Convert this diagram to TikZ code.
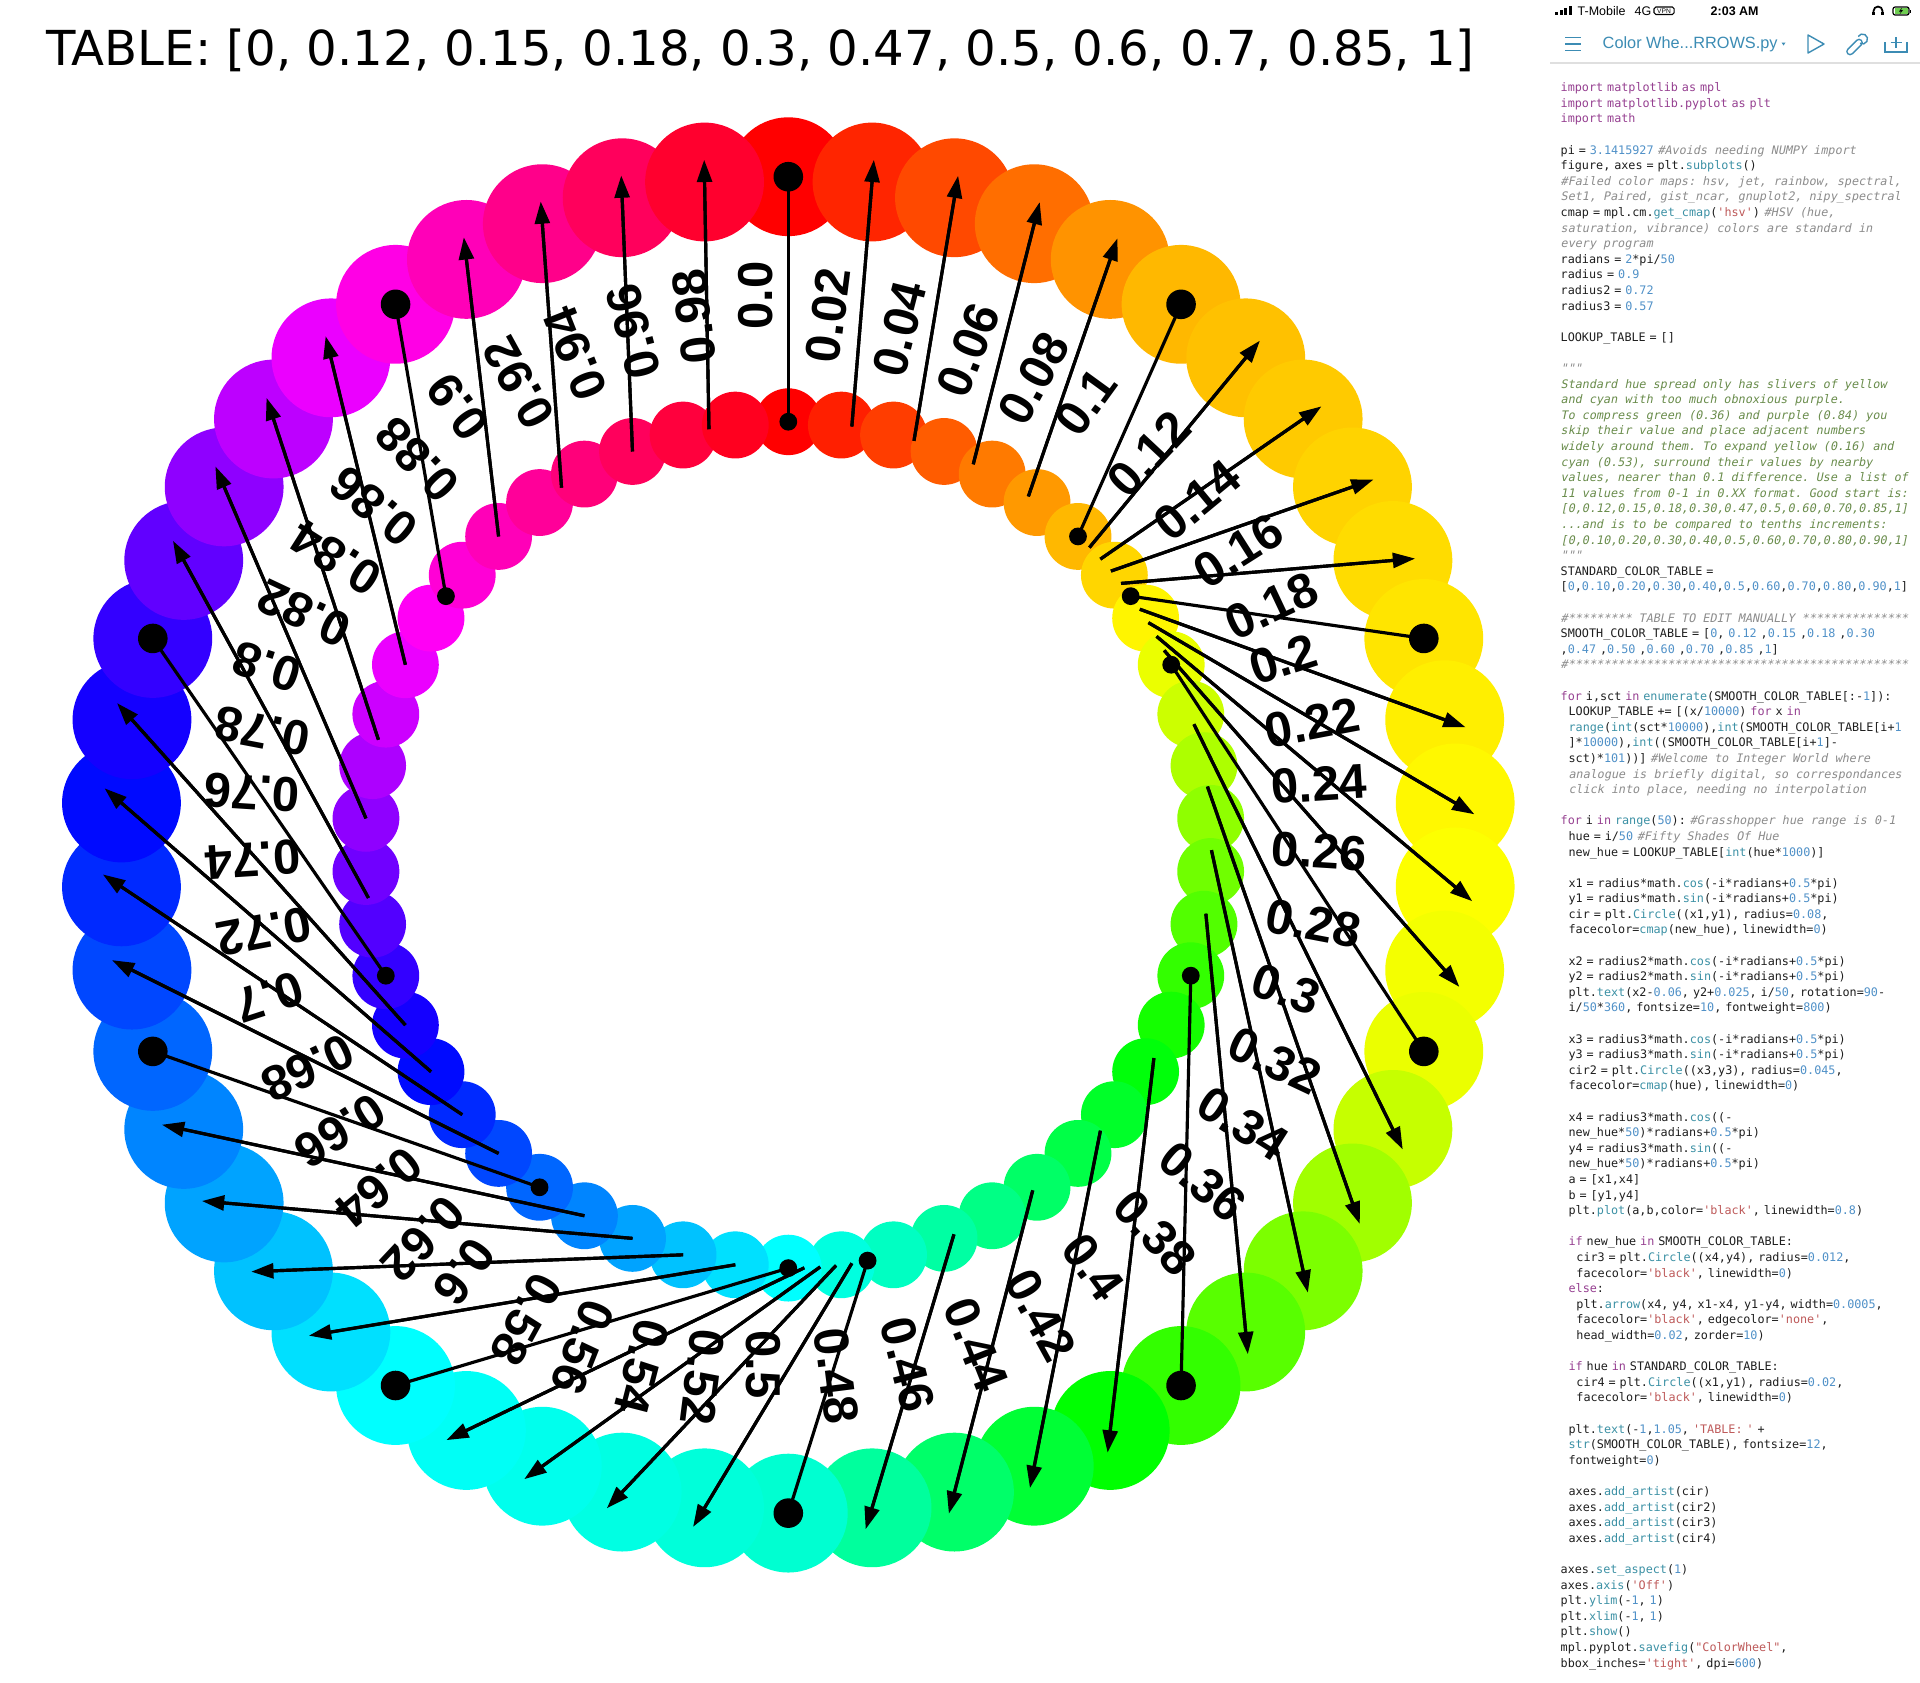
\documentclass[tikz,border=0pt]{standalone}
\usepackage{fontspec}
\usetikzlibrary{arrows.meta,calc}
\setmainfont{DejaVu Sans}
\newfontfamily\tagfont{Liberation Sans}
\newfontfamily\uifont{Liberation Sans}
\newfontfamily\codefont{DejaVu Sans Mono}[ItalicFont={DejaVu Sans Mono},ItalicFeatures={FakeSlant=0.2},Ligatures=TeXOff]

\definecolor{pykw}{RGB}{150,64,145}
\definecolor{pynum}{RGB}{80,145,200}
\definecolor{pyfn}{RGB}{60,145,165}
\definecolor{pystr}{RGB}{190,90,90}
\definecolor{pycom}{RGB}{140,140,140}
\definecolor{pydoc}{RGB}{105,140,75}
\definecolor{pytxt}{RGB}{30,30,30}
\definecolor{iosblue}{RGB}{60,140,180}
\definecolor{battgreen}{RGB}{110,205,80}

% comments set on a fixed character grid
\ExplSyntaxOn
\tl_new:N \l_codechars_tl
\cs_new_protected:Npn \codegrid #1
  {
    \tl_set:Nn \l_codechars_tl {#1}
    \tl_replace_all:Nnn \l_codechars_tl {~} {\codesp}
    \tl_map_inline:Nn \l_codechars_tl { \makebox[0.602em][l]{##1} }
  }
\ExplSyntaxOff
\newcommand\codesp{\kern0pt}

% code highlighting
\newcommand\ckw[1]{\textcolor{pykw}{#1}}
\newcommand\cnum[1]{\textcolor{pynum}{#1}}
\newcommand\cfn[1]{\textcolor{pyfn}{#1}}
\newcommand\cstr[1]{\textcolor{pystr}{#1}}
\newcommand\ccom[1]{\textcolor{pycom}{\itshape\codegrid{#1}}}
\newcommand\cdoc[1]{\textcolor{pydoc}{\itshape\codegrid{#1}}}
\newcommand\codesize{\fontsize{3.35pt}{4.438pt}\selectfont\codefont\frenchspacing}

% hue of step #1 and its remapped hue
\newcommand\huestep[1]{%
  \pgfmathtruncatemacro\hk{#1/5}%
  \pgfmathtruncatemacro\hj{\hk+1}%
  \pgfmathtruncatemacro\hr{#1-5*\hk}%
  \pgfmathsetmacro\ta{{0,0.12,0.15,0.18,0.30,0.47,0.50,0.60,0.70,0.85,1}[\hk]}%
  \pgfmathsetmacro\tb{{0,0.12,0.15,0.18,0.30,0.47,0.50,0.60,0.70,0.85,1}[\hj]}%
  \pgfmathsetmacro\nh{\ta+\hr*0.2*(\tb-\ta)}%
  \pgfmathsetmacro\hh{#1/50}%
  \pgfmathsetmacro\ao{90-7.2*#1}%
  \pgfmathsetmacro\an{90-360*\nh}%
}

\begin{document}
\begin{tikzpicture}[
spoke/.style={line width=0.9pt},
pointer/.style={line width=0.9pt, -{Triangle[length=2.23mm, width=1.49mm]}},
tag/.style={inner sep=0, font=\fontsize{13.94pt}{16pt}\selectfont\tagfont\bfseries},
ui/.style={inner sep=0, font=\fontsize{3.55pt}{4pt}\selectfont\uifont},
codeblock/.style={inner sep=0, text width=3.8cm, align=left, text=pytxt, font=\codesize},
icon/.style={iosblue, line width=0.4pt}
]
\useasboundingbox (0,0) rectangle (19.2,-16.82);
\fill[white] (0,0) rectangle (19.2,-16.82);

% title
\node[anchor=base west, inner sep=0, font=\fontsize{13.71pt}{16pt}\selectfont] (title) at (0.455,-0.655)
{TABLE: [0, 0.12, 0.15, 0.18, 0.3, 0.47, 0.5, 0.6, 0.7, 0.85, 1]};

% wheel
\begin{scope}[shift={(7.883,-8.449)}]
\foreach \i in {0,...,49}{
  \huestep{\i}
  \definecolor{ringout}{hsb}{\nh,1,1}
  \definecolor{ringin}{hsb}{\hh,1,1}
  \coordinate (o\i) at (\ao:6.682);
  \coordinate (h\i) at (\ao:4.232);
  \coordinate (n\i) at (\an:4.232);
  \fill[ringout] (o\i) circle (0.594);
  \fill[ringin] (h\i) circle (0.334);
}
% dots and spokes
\foreach \i in {0,...,49}{
  \huestep{\i}
  \ifnum\hr=0
    \fill (o\i) circle (0.148);
    \fill (n\i) circle (0.089);
  \fi
  \draw[spoke] (o\i) -- (n\i);
}
% hue labels
\foreach \i in {0,...,49}{
  \huestep{\i}
  \ifnum\hr=0
    \edef\tagtxt{0.\hk}\def\tagw{0.681}%
  \else
    \pgfmathtruncatemacro\dg{2*\i}%
    \ifnum\dg<10 \edef\tagtxt{0.0\dg}\else\edef\tagtxt{0.\dg}\fi
    \def\tagw{0.954}%
  \fi
  \pgfmathsetmacro\tx{(0.72*cos(\ao)-0.06)*7.424+0.5*(\tagw*abs(cos(\ao))+0.456*abs(sin(\ao)))-0.07}
  \pgfmathsetmacro\ty{(0.72*sin(\ao)+0.025)*7.424+0.353-0.5*(\tagw*abs(sin(\ao))+0.456*abs(cos(\ao)))-0.05}
  \node[tag, rotate=\ao] (t\i) at (\tx,\ty) {\vphantom{lp}\tagtxt};
}
% arrows
\foreach \i in {0,...,49}{
  \huestep{\i}
  \ifnum\hr>0
    \draw[pointer] (n\i) -- ($(o\i)!-0.223cm!(n\i)$);
  \fi
}
\end{scope}

% status bar
\foreach \b [count=\n] in {0.03,0.05,0.07,0.09}
  \fill (15.505+0.045*\n,-0.15) rectangle ++(0.033,\b);
\node[ui, anchor=base west] (carrier) at (15.77,-0.15) {T-Mobile};
\node[ui, anchor=base west] (net) at (16.34,-0.15) {4G};
\draw[line width=0.3pt, rounded corners=0.5pt] (16.54,-0.07) rectangle (16.74,-0.145);
\node[inner sep=0, font=\fontsize{1.9pt}{2pt}\selectfont\uifont] (vpn) at (16.64,-0.1075) {VPN};
\node[ui, anchor=base west, font=\fontsize{3.55pt}{4pt}\selectfont\uifont\bfseries] (clock) at (17.10,-0.15) {2:03 AM};
\draw[line width=0.5pt] (18.735,-0.145) -- (18.735,-0.11) arc[start angle=180, end angle=0, radius=0.045] -- (18.825,-0.145);
\fill (18.72,-0.12) rectangle (18.75,-0.15);
\fill (18.81,-0.12) rectangle (18.84,-0.15);
\draw[line width=0.35pt, rounded corners=0.6pt] (18.93,-0.07) rectangle (19.09,-0.15);
\fill (19.095,-0.095) rectangle (19.11,-0.125);
\fill[battgreen] (18.945,-0.08) rectangle (19.075,-0.14);
\fill (19.02,-0.075) -- (18.99,-0.115) -- (19.01,-0.115) -- (18.995,-0.145) -- (19.03,-0.10) -- (19.01,-0.10) -- cycle;

% editor title bar
\foreach \y in {0.373,0.438,0.503}
  \draw[icon] (15.65,-\y) -- (15.81,-\y);
\node[anchor=base west, inner sep=0, text=iosblue, font=\fontsize{4.64pt}{5pt}\selectfont\uifont] (file) at (16.02,-0.485) {Color Whe...RROWS.py};
\fill[iosblue] (17.815,-0.425) -- (17.855,-0.425) -- (17.835,-0.455) -- cycle;
\draw[icon, line join=round] (18.08,-0.35) -- (18.08,-0.53) -- (18.24,-0.44) -- cycle;
\draw[iosblue, line width=2.2pt, line cap=round] (18.50,-0.515) -- (18.59,-0.425);
\draw[white, line width=1.3pt, line cap=round] (18.50,-0.515) -- (18.59,-0.425);
\draw[icon] (18.625,-0.39) ++(-120:0.05) arc[start angle=-120, end angle=150, radius=0.05];
\draw[icon] (18.85,-0.42) -- (18.85,-0.52) -- (19.07,-0.52) -- (19.07,-0.42);
\draw[icon] (18.905,-0.425) -- (19.015,-0.425) (18.96,-0.37) -- (18.96,-0.48);
\draw[gray!25, line width=0.4pt] (15.50,-0.63) -- (19.2,-0.63);

% code listing
\node[codeblock, anchor=base west] (code) at (15.60,-0.917) {%
\ckw{import matplotlib as mpl}\\
\ckw{import matplotlib.pyplot as plt}\\
\ckw{import math}\\
~\\
pi = \cnum{3.1415927} \ccom{\#Avoids needing NUMPY import}\\
figure, axes = plt.\cfn{subplots}()\\
\ccom{\#Failed color maps: hsv, jet, rainbow, spectral,}\\
\ccom{Set1, Paired, gist\_ncar, gnuplot2, nipy\_spectral}\\
cmap = mpl.cm.\cfn{get\_cmap}(\cstr{'hsv'}) \ccom{\#HSV (hue,}\\
\ccom{saturation, vibrance) colors are standard in}\\
\ccom{every program}\\
radians = \cnum{2}*pi/\cnum{50}\\
radius = \cnum{0.9}\\
radius2 = \cnum{0.72}\\
radius3 = \cnum{0.57}\\
~\\
LOOKUP\_TABLE = []\\
~\\
\ccom{"""}\\
\cdoc{Standard hue spread only has slivers of yellow}\\
\cdoc{and cyan with too much obnoxious purple.}\\
\cdoc{To compress green (0.36) and purple (0.84) you}\\
\cdoc{skip their value and place adjacent numbers}\\
\cdoc{widely around them. To expand yellow (0.16) and}\\
\cdoc{cyan (0.53), surround their values by nearby}\\
\cdoc{values, nearer than 0.1 difference. Use a list of}\\
\cdoc{11 values from 0-1 in 0.XX format. Good start is:}\\
\cdoc{[0,0.12,0.15,0.18,0.30,0.47,0.5,0.60,0.70,0.85,1]}\\
\cdoc{...and is to be compared to tenths increments:}\\
\cdoc{[0,0.10,0.20,0.30,0.40,0.5,0.60,0.70,0.80,0.90,1]}\\
\ccom{"""}\\
STANDARD\_COLOR\_TABLE =\\
{[}\cnum{0},\cnum{0.10},\cnum{0.20},\cnum{0.30},\cnum{0.40},\cnum{0.5},\cnum{0.60},\cnum{0.70},\cnum{0.80},\cnum{0.90},\cnum{1}]\\
~\\
\ccom{\#********* TABLE TO EDIT MANUALLY ***************}\\
SMOOTH\_COLOR\_TABLE = [\cnum{0}, \cnum{0.12} ,\cnum{0.15} ,\cnum{0.18} ,\cnum{0.30}\\
,\cnum{0.47} ,\cnum{0.50} ,\cnum{0.60} ,\cnum{0.70} ,\cnum{0.85} ,\cnum{1}]\\
\ccom{\#************************************************}\\
~\\
\ckw{for} i,sct \ckw{in} \cfn{enumerate}(SMOOTH\_COLOR\_TABLE[:-\cnum{1}]):\\
\ \ LOOKUP\_TABLE += [(x/\cnum{10000}) \ckw{for} x \ckw{in}\\
\ \ \cfn{range}(\cfn{int}(sct*\cnum{10000}),\cfn{int}(SMOOTH\_COLOR\_TABLE[i+\cnum{1}\\
\ \ ]*\cnum{10000}),\cfn{int}((SMOOTH\_COLOR\_TABLE[i+\cnum{1}]-\\
\ \ sct)*\cnum{101}))] \ccom{\#Welcome to Integer World where}\\
\ \ \ccom{analogue is briefly digital, so correspondances}\\
\ \ \ccom{click into place, needing no interpolation}\\
~\\
\ckw{for} i \ckw{in} \cfn{range}(\cnum{50}): \ccom{\#Grasshopper hue range is 0-1}\\
\ \ hue = i/\cnum{50} \ccom{\#Fifty Shades Of Hue}\\
\ \ new\_hue = LOOKUP\_TABLE[\cfn{int}(hue*\cnum{1000})]\\
~\\
\ \ x1 = radius*math.\cfn{cos}(-i*radians+\cnum{0.5}*pi)\\
\ \ y1 = radius*math.\cfn{sin}(-i*radians+\cnum{0.5}*pi)\\
\ \ cir = plt.\cfn{Circle}((x1,y1), radius=\cnum{0.08},\\
\ \ facecolor=\cfn{cmap}(new\_hue), linewidth=\cnum{0})\\
~\\
\ \ x2 = radius2*math.\cfn{cos}(-i*radians+\cnum{0.5}*pi)\\
\ \ y2 = radius2*math.\cfn{sin}(-i*radians+\cnum{0.5}*pi)\\
\ \ plt.\cfn{text}(x2-\cnum{0.06}, y2+\cnum{0.025}, i/\cnum{50}, rotation=\cnum{90}-\\
\ \ i/\cnum{50}*\cnum{360}, fontsize=\cnum{10}, fontweight=\cnum{800})\\
~\\
\ \ x3 = radius3*math.\cfn{cos}(-i*radians+\cnum{0.5}*pi)\\
\ \ y3 = radius3*math.\cfn{sin}(-i*radians+\cnum{0.5}*pi)\\
\ \ cir2 = plt.\cfn{Circle}((x3,y3), radius=\cnum{0.045},\\
\ \ facecolor=\cfn{cmap}(hue), linewidth=\cnum{0})\\
~\\
\ \ x4 = radius3*math.\cfn{cos}((-\\
\ \ new\_hue*\cnum{50})*radians+\cnum{0.5}*pi)\\
\ \ y4 = radius3*math.\cfn{sin}((-\\
\ \ new\_hue*\cnum{50})*radians+\cnum{0.5}*pi)\\
\ \ a = [x1,x4]\\
\ \ b = [y1,y4]\\
\ \ plt.\cfn{plot}(a,b,color=\cstr{'black'}, linewidth=\cnum{0.8})\\
~\\
\ \ \ckw{if} new\_hue \ckw{in} SMOOTH\_COLOR\_TABLE:\\
\ \ \ \ cir3 = plt.\cfn{Circle}((x4,y4), radius=\cnum{0.012},\\
\ \ \ \ facecolor=\cstr{'black'}, linewidth=\cnum{0})\\
\ \ \ckw{else}:\\
\ \ \ \ plt.\cfn{arrow}(x4, y4, x1-x4, y1-y4, width=\cnum{0.0005},\\
\ \ \ \ facecolor=\cstr{'black'}, edgecolor=\cstr{'none'},\\
\ \ \ \ head\_width=\cnum{0.02}, zorder=\cnum{10})\\
~\\
\ \ \ckw{if} hue \ckw{in} STANDARD\_COLOR\_TABLE:\\
\ \ \ \ cir4 = plt.\cfn{Circle}((x1,y1), radius=\cnum{0.02},\\
\ \ \ \ facecolor=\cstr{'black'}, linewidth=\cnum{0})\\
~\\
\ \ plt.\cfn{text}(-\cnum{1},\cnum{1.05}, \cstr{'TABLE: '} +\\
\ \ \cfn{str}(SMOOTH\_COLOR\_TABLE), fontsize=\cnum{12},\\
\ \ fontweight=\cnum{0})\\
~\\
\ \ axes.\cfn{add\_artist}(cir)\\
\ \ axes.\cfn{add\_artist}(cir2)\\
\ \ axes.\cfn{add\_artist}(cir3)\\
\ \ axes.\cfn{add\_artist}(cir4)\\
~\\
axes.\cfn{set\_aspect}(\cnum{1})\\
axes.\cfn{axis}(\cstr{'Off'})\\
plt.\cfn{ylim}(-\cnum{1}, \cnum{1})\\
plt.\cfn{xlim}(-\cnum{1}, \cnum{1})\\
plt.\cfn{show}()\\
mpl.pyplot.\cfn{savefig}(\cstr{"ColorWheel"},\\
bbox\_inches=\cstr{'tight'}, dpi=\cnum{600})};

\end{tikzpicture}
\end{document}
